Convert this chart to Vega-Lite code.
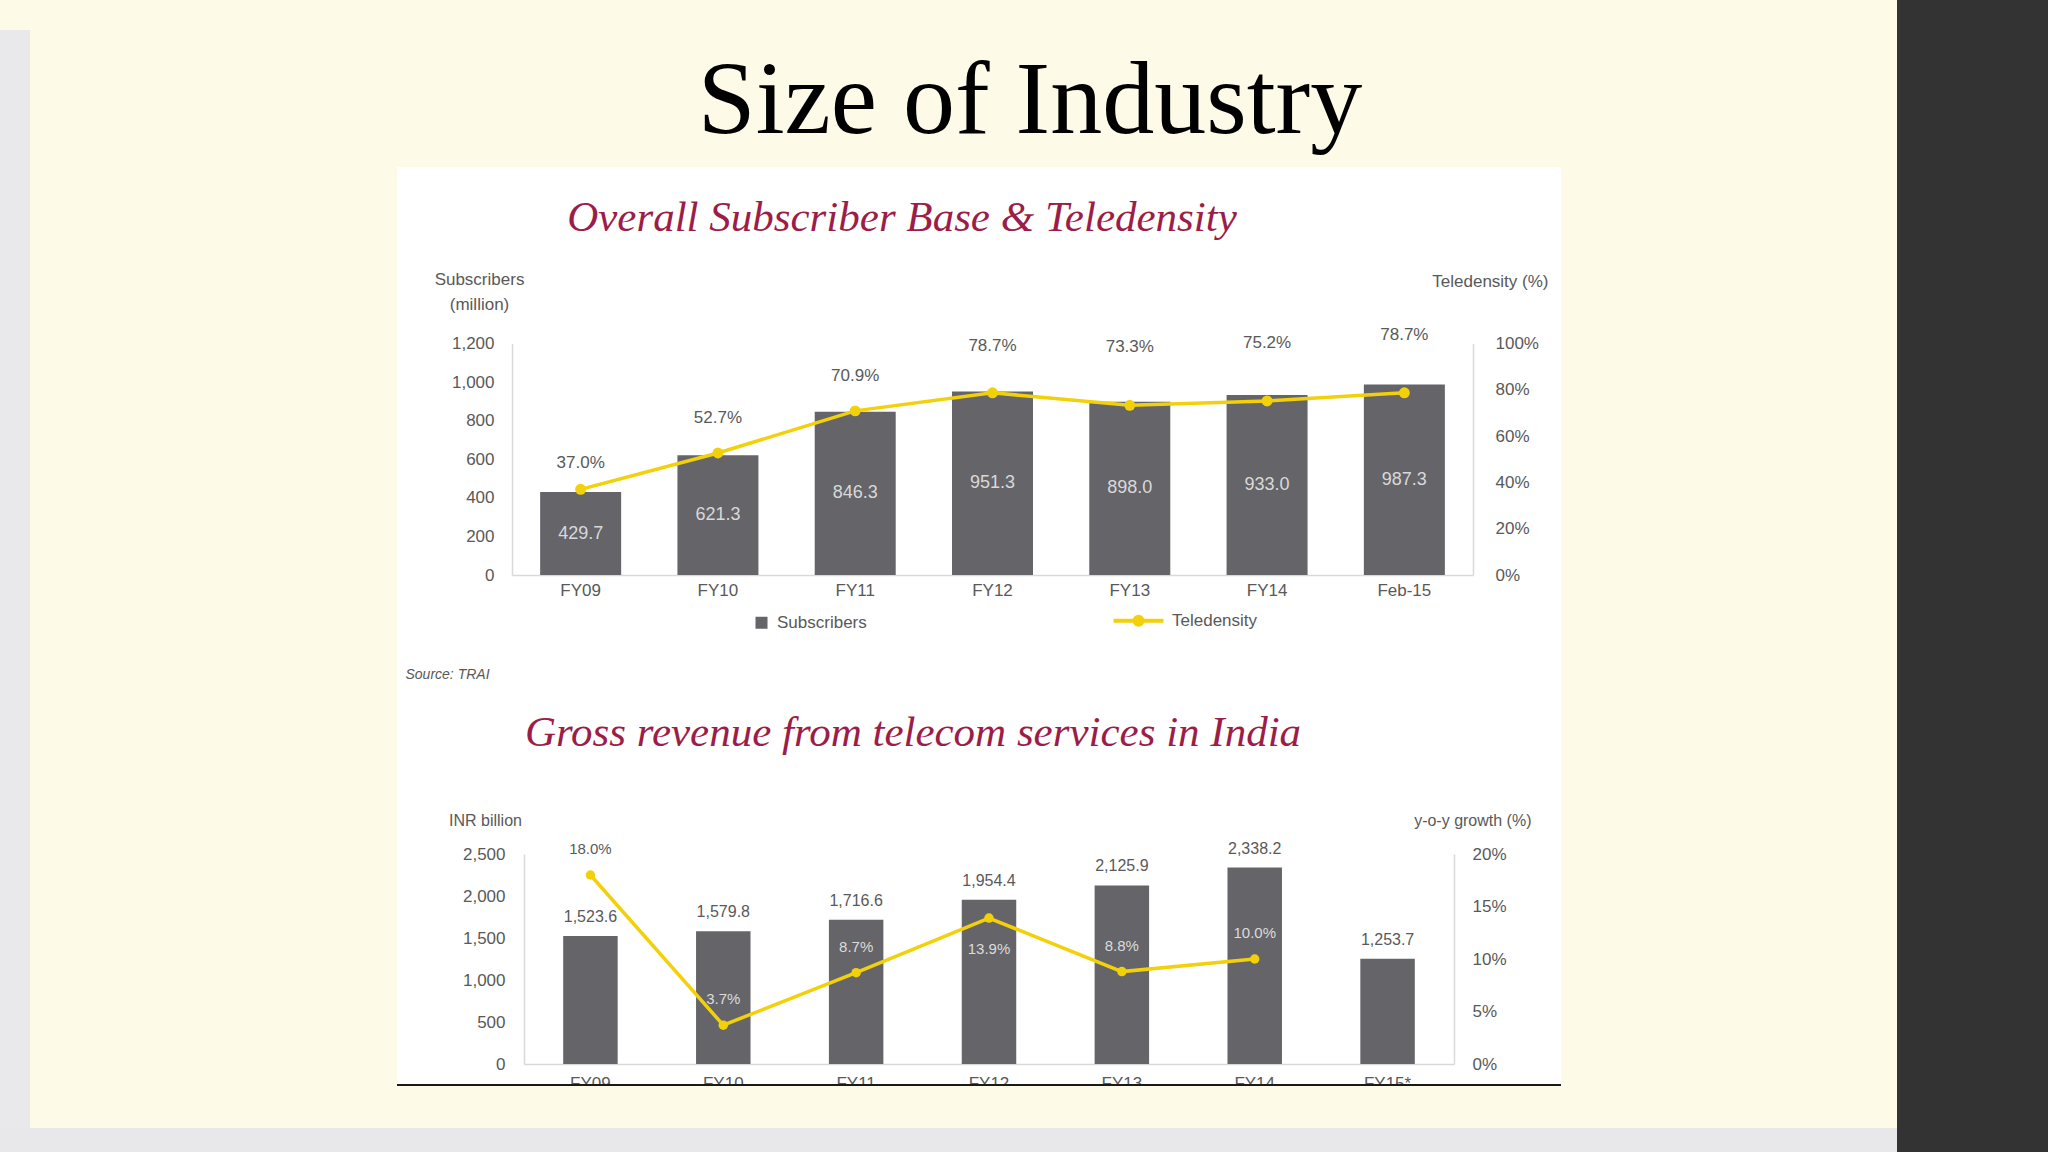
{
  "$schema": "https://vega.github.io/schema/vega-lite/v6.json",
  "background": "#fdfbe8",
  "padding": 0,
  "spacing": 0,
  "config": {
    "view": {"stroke": null},
    "axis": {"grid": false, "ticks": false, "tickSize": 0, "labelFont": "Liberation Sans", "labelFontSize": 17, "labelColor": "#595959", "titleFont": "Liberation Sans", "titleFontSize": 17, "titleFontWeight": "normal", "titleColor": "#595959", "domainColor": "#d9d9d9", "domainWidth": 1.5},
    "text": {"font": "Liberation Sans"},
    "legend": {"labelFont": "Liberation Sans"}
  },
  "hconcat": [
    {
      "spacing": 0,
      "vconcat": [
        {
          "spacing": 0,
          "hconcat": [
            {
              "spacing": 0,
              "vconcat": [
                {"width": 30, "height": 30, "data": {"values": []}, "mark": "rect", "encoding": {}},
                {"width": 30, "height": 1098, "view": {"fill": "#e9e8eb", "stroke": null}, "data": {"values": []}, "mark": "rect", "encoding": {}}
              ]
            },
            {"width": 367, "height": 1, "data": {"values": []}, "mark": "rect", "encoding": {}},
            {
              "spacing": 0,
              "resolve": {"scale": {"color": "independent"}, "legend": {"color": "independent"}},
              "vconcat": [
                {
                  "width": 1164, "height": 167,
                  "title": {"text": "Size of Industry", "font": "Liberation Serif", "fontSize": 104, "fontWeight": "normal", "color": "#000000", "anchor": "middle", "frame": "group", "dx": 51, "baseline": "alphabetic", "offset": -237},
                  "data": {"values": []},
                  "mark": "rect",
                  "encoding": {}
                },
                {
                  "width": 1164, "height": 533,
                  "view": {"fill": "#ffffff", "stroke": null},
                  "title": {"text": "Overall Subscriber Base & Teledensity", "font": "Liberation Serif", "fontStyle": "italic", "fontWeight": "normal", "fontSize": 43, "color": "#9b1d48", "anchor": "middle", "frame": "group", "dx": -77, "offset": -107, "baseline": "alphabetic"},
                  "data": {"values": [
                    {"year": "FY09", "subs": 429.7, "tele": 0.370},
                    {"year": "FY10", "subs": 621.3, "tele": 0.527},
                    {"year": "FY11", "subs": 846.3, "tele": 0.709},
                    {"year": "FY12", "subs": 951.3, "tele": 0.787},
                    {"year": "FY13", "subs": 898.0, "tele": 0.733},
                    {"year": "FY14", "subs": 933.0, "tele": 0.752},
                    {"year": "Feb-15", "subs": 987.3, "tele": 0.787}
                  ]},
                  "encoding": {
                    "x": {"field": "year", "type": "nominal", "sort": null,
                      "scale": {"range": [115, 1076], "paddingInner": 0.41, "paddingOuter": 0.205},
                      "axis": {"orient": "bottom", "offset": -125, "labelAngle": 0, "labelPadding": 7, "title": "Source: TRAI", "titleX": 8, "titleY": 99, "titleAlign": "left", "titleBaseline": "middle", "titleFontSize": 14, "titleFontStyle": "italic"}}
                  },
                  "layer": [
                    {
                      "mark": {"type": "bar"},
                      "encoding": {
                        "y": {"field": "subs", "type": "quantitative",
                          "scale": {"domain": [0, 1200], "range": [408, 176.5], "nice": false},
                          "axis": {"orient": "left", "offset": -115, "values": [0, 200, 400, 600, 800, 1000, 1200], "format": ",d", "labelPadding": 18, "title": ["Subscribers", "(million)"], "titleAngle": 0, "titleX": -33, "titleY": 112, "titleAlign": "center", "titleBaseline": "middle", "titleLineHeight": 25}},
                        "color": {"datum": "Subscribers",
                          "scale": {"domain": ["Subscribers", "Teledensity"], "range": ["#646469", "#f2d10a"]},
                          "legend": {"orient": "none", "legendX": 356, "legendY": 445, "direction": "horizontal", "title": null, "columnPadding": 238, "labelFontSize": 17, "labelColor": "#595959", "labelOffset": 7,
                            "encode": {"symbols": {"update": {
                              "shape": {"signal": "datum.value === 'Subscribers' ? 'M-0.6,-0.6L0.6,-0.6L0.6,0.6L-0.6,0.6Z' : 'M-4.3,0L0.7,0M-2.2,0A0.4,0.4 0 1 1 -1.4,0A0.4,0.4 0 1 1 -2.2,0Z'"},
                              "size": {"value": 400},
                              "fill": {"signal": "datum.value === 'Subscribers' ? '#646469' : '#f2d10a'"},
                              "stroke": {"signal": "datum.value === 'Subscribers' ? '#646469' : '#f2d10a'"},
                              "strokeWidth": {"signal": "datum.value === 'Subscribers' ? 0 : 4"},
                              "fillOpacity": {"value": 1},
                              "opacity": {"value": 1}
                            }}}}}
                      }
                    },
                    {
                      "mark": {"type": "text", "color": "#d9d9d9", "fontSize": 18, "baseline": "middle"},
                      "encoding": {
                        "y": {"field": "subs", "type": "quantitative", "scale": {"domain": [0, 2400], "range": [408, 176.5], "nice": false}, "axis": null},
                        "text": {"field": "subs", "type": "quantitative", "format": ".1f"}
                      }
                    },
                    {
                      "mark": {"type": "line", "strokeWidth": 3.5, "point": {"filled": true, "size": 120}},
                      "encoding": {
                        "y": {"field": "tele", "type": "quantitative",
                          "scale": {"domain": [0, 1], "range": [408, 176.5], "nice": false},
                          "axis": {"orient": "right", "offset": -88, "values": [0, 0.2, 0.4, 0.6, 0.8, 1], "format": ".0%", "labelPadding": 22, "title": "Teledensity (%)", "titleAngle": 0, "titleX": 75, "titleY": 114, "titleAlign": "right", "titleBaseline": "middle"}},
                        "color": {"datum": "Teledensity"}
                      }
                    },
                    {
                      "transform": [{"filter": {"field": "year", "oneOf": ["FY09"]}}],
                      "mark": {"type": "text", "color": "#595959", "fontSize": 17, "baseline": "middle", "dy": -26},
                      "encoding": {
                        "y": {"field": "tele", "type": "quantitative", "scale": {"domain": [0, 1], "range": [408, 176.5], "nice": false}, "axis": null},
                        "text": {"field": "tele", "type": "quantitative", "format": ".1%"}
                      }
                    },
                    {
                      "transform": [{"filter": {"field": "year", "oneOf": ["FY10", "FY11"]}}],
                      "mark": {"type": "text", "color": "#595959", "fontSize": 17, "baseline": "middle", "dy": -35},
                      "encoding": {
                        "y": {"field": "tele", "type": "quantitative", "scale": {"domain": [0, 1], "range": [408, 176.5], "nice": false}, "axis": null},
                        "text": {"field": "tele", "type": "quantitative", "format": ".1%"}
                      }
                    },
                    {
                      "transform": [{"filter": {"field": "year", "oneOf": ["FY12"]}}],
                      "mark": {"type": "text", "color": "#595959", "fontSize": 17, "baseline": "middle", "dy": -47},
                      "encoding": {
                        "y": {"field": "tele", "type": "quantitative", "scale": {"domain": [0, 1], "range": [408, 176.5], "nice": false}, "axis": null},
                        "text": {"field": "tele", "type": "quantitative", "format": ".1%"}
                      }
                    },
                    {
                      "transform": [{"filter": {"field": "year", "oneOf": ["FY13", "FY14", "Feb-15"]}}],
                      "mark": {"type": "text", "color": "#595959", "fontSize": 17, "baseline": "middle", "dy": -58},
                      "encoding": {
                        "y": {"field": "tele", "type": "quantitative", "scale": {"domain": [0, 1], "range": [408, 176.5], "nice": false}, "axis": null},
                        "text": {"field": "tele", "type": "quantitative", "format": ".1%"}
                      }
                    }
                  ],
                  "resolve": {"scale": {"y": "independent"}, "axis": {"y": "independent"}}
                },
                {
                  "width": 1164, "height": 384,
                  "view": {"fill": "#ffffff", "stroke": null},
                  "title": {"text": "Gross revenue from telecom services in India", "font": "Liberation Serif", "fontStyle": "italic", "fontWeight": "normal", "fontSize": 43, "color": "#9b1d48", "anchor": "middle", "frame": "group", "dx": -66, "offset": -89, "baseline": "alphabetic"},
                  "data": {"values": [
                    {"year": "FY09", "rev": 1523.6, "growth": 0.180},
                    {"year": "FY10", "rev": 1579.8, "growth": 0.037},
                    {"year": "FY11", "rev": 1716.6, "growth": 0.087},
                    {"year": "FY12", "rev": 1954.4, "growth": 0.139},
                    {"year": "FY13", "rev": 2125.9, "growth": 0.088},
                    {"year": "FY14", "rev": 2338.2, "growth": 0.100},
                    {"year": "FY15*", "rev": 1253.7, "growth": null}
                  ]},
                  "encoding": {
                    "x": {"field": "year", "type": "nominal", "sort": null,
                      "scale": {"range": [127, 1057], "paddingInner": 0.59, "paddingOuter": 0.295},
                      "axis": {"orient": "bottom", "offset": -20, "labels": false, "title": null}}
                  },
                  "layer": [
                    {
                      "mark": {"type": "bar", "color": "#646469"},
                      "encoding": {
                        "y": {"field": "rev", "type": "quantitative",
                          "scale": {"domain": [0, 2500], "range": [364, 154], "nice": false},
                          "axis": {"orient": "left", "offset": -127, "values": [0, 500, 1000, 1500, 2000, 2500], "format": ",d", "labelPadding": 19, "title": "INR billion", "titleAngle": 0, "titleX": -39, "titleY": 120, "titleAlign": "center", "titleBaseline": "middle", "titleFontSize": 16}}
                      }
                    },
                    {
                      "mark": {"type": "text", "color": "#595959", "fontSize": 16, "baseline": "middle", "dy": -19},
                      "encoding": {
                        "y": {"field": "rev", "type": "quantitative", "scale": {"domain": [0, 2500], "range": [364, 154], "nice": false}, "axis": null},
                        "text": {"field": "rev", "type": "quantitative", "format": ",.1f"}
                      }
                    },
                    {
                      "mark": {"type": "line", "color": "#f2d10a", "strokeWidth": 3.5, "point": {"filled": true, "size": 90, "color": "#f2d10a"}},
                      "encoding": {
                        "y": {"field": "growth", "type": "quantitative",
                          "scale": {"domain": [0, 0.2], "range": [364, 154], "nice": false},
                          "axis": {"orient": "right", "offset": -107, "values": [0, 0.05, 0.1, 0.15, 0.2], "format": ".0%", "labelPadding": 18, "title": "y-o-y growth (%)", "titleAngle": 0, "titleX": 77, "titleY": 120, "titleAlign": "right", "titleBaseline": "middle", "titleFontSize": 16}}
                      }
                    },
                    {
                      "transform": [{"filter": "datum.growth != null && datum.year != 'FY12'"}],
                      "mark": {"type": "text", "fontSize": 15, "baseline": "middle", "dy": -26},
                      "encoding": {
                        "y": {"field": "growth", "type": "quantitative", "scale": {"domain": [0, 0.2], "range": [364, 154], "nice": false}, "axis": null},
                        "text": {"field": "growth", "type": "quantitative", "format": ".1%"},
                        "color": {"condition": {"test": "datum.year === 'FY09'", "value": "#595959"}, "value": "#dcdcdc"}
                      }
                    },
                    {
                      "transform": [{"filter": "datum.year == 'FY12'"}],
                      "mark": {"type": "text", "fontSize": 15, "baseline": "middle", "dy": 31, "color": "#dcdcdc"},
                      "encoding": {
                        "y": {"field": "growth", "type": "quantitative", "scale": {"domain": [0, 0.2], "range": [364, 154], "nice": false}, "axis": null},
                        "text": {"field": "growth", "type": "quantitative", "format": ".1%"}
                      }
                    },
                    {
                      "mark": {"type": "text", "color": "#595959", "fontSize": 17, "baseline": "middle", "dy": 20, "clip": true},
                      "encoding": {
                        "y": {"datum": 0, "type": "quantitative", "scale": {"domain": [0, 2500], "range": [364, 154], "nice": false}, "axis": null},
                        "text": {"field": "year", "type": "nominal"}
                      }
                    }
                  ],
                  "resolve": {"scale": {"y": "independent"}, "axis": {"y": "independent"}}
                },
                {
                  "width": 1164, "height": 2,
                  "view": {"fill": "#1a1a1a", "stroke": null},
                  "data": {"values": []},
                  "mark": "rect",
                  "encoding": {}
                }
              ]
            },
            {"width": 336, "height": 1, "data": {"values": []}, "mark": "rect", "encoding": {}}
          ]
        },
        {"width": 1897, "height": 24, "view": {"fill": "#e8e7ea", "stroke": null}, "data": {"values": []}, "mark": "rect", "encoding": {}}
      ]
    },
    {
      "width": 151, "height": 1152,
      "view": {"fill": "#343334", "stroke": null},
      "data": {"values": []},
      "mark": "rect",
      "encoding": {}
    }
  ]
}
